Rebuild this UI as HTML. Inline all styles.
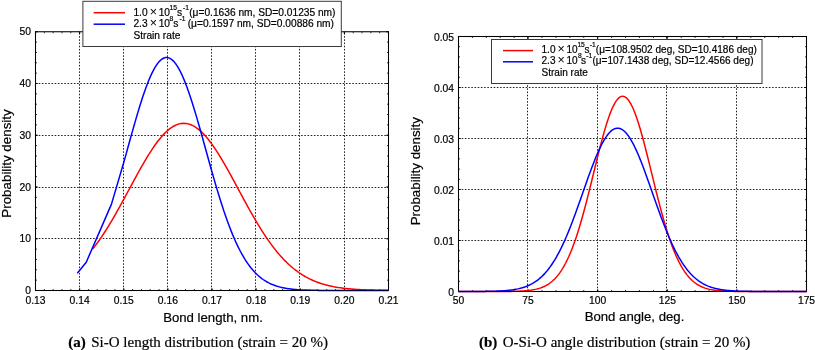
<!DOCTYPE html>
<html><head><meta charset="utf-8"><title>Figure</title>
<style>
html,body{margin:0;padding:0;background:#fff;}
svg{display:block}
.g{stroke:#222;stroke-width:1;stroke-dasharray:1.6 1.6;fill:none}
.t{stroke:#000;stroke-width:0.8;fill:none}
.f{stroke:#000;stroke-width:1.05;fill:none}
.r{stroke:#ff0000;stroke-width:1.5;fill:none;stroke-linejoin:round}
.b{stroke:#0000ff;stroke-width:1.5;fill:none;stroke-linejoin:round}
.lg{fill:#fff;stroke:#3a3a3a;stroke-width:1}
text{font-family:"Liberation Sans",sans-serif;fill:#000;stroke:#000;stroke-width:0.2px}
.tl{font-size:10.3px}
.al{font-size:13.2px}
.yl{font-size:13.35px}
.lt{font-size:10.2px}
.lb{font-size:10.05px}
.sup{font-size:6.7px}
.mx{font-size:12.5px;stroke-width:0}
.cap{font-family:"Liberation Serif",serif;font-size:15px}
</style></head><body>
<svg width="815" height="350" viewBox="0 0 815 350">
<line x1="79.50" y1="290.5" x2="79.50" y2="31.75" class="g"/>
<line x1="123.50" y1="290.5" x2="123.50" y2="31.75" class="g"/>
<line x1="167.50" y1="290.5" x2="167.50" y2="31.75" class="g"/>
<line x1="211.50" y1="290.5" x2="211.50" y2="31.75" class="g"/>
<line x1="255.50" y1="290.5" x2="255.50" y2="31.75" class="g"/>
<line x1="299.50" y1="290.5" x2="299.50" y2="31.75" class="g"/>
<line x1="344.50" y1="290.5" x2="344.50" y2="31.75" class="g"/>
<line x1="35.5" y1="238.50" x2="388.5" y2="238.50" class="g"/>
<line x1="35.5" y1="187.50" x2="388.5" y2="187.50" class="g"/>
<line x1="35.5" y1="135.50" x2="388.5" y2="135.50" class="g"/>
<line x1="35.5" y1="83.50" x2="388.5" y2="83.50" class="g"/>
<line x1="35.50" y1="290.5" x2="35.50" y2="289.0" class="t"/>
<line x1="35.50" y1="31.75" x2="35.50" y2="33.25" class="t"/>
<line x1="44.33" y1="290.5" x2="44.33" y2="289.0" class="t"/>
<line x1="44.33" y1="31.75" x2="44.33" y2="33.25" class="t"/>
<line x1="53.15" y1="290.5" x2="53.15" y2="289.0" class="t"/>
<line x1="53.15" y1="31.75" x2="53.15" y2="33.25" class="t"/>
<line x1="61.98" y1="290.5" x2="61.98" y2="289.0" class="t"/>
<line x1="61.98" y1="31.75" x2="61.98" y2="33.25" class="t"/>
<line x1="70.80" y1="290.5" x2="70.80" y2="289.0" class="t"/>
<line x1="70.80" y1="31.75" x2="70.80" y2="33.25" class="t"/>
<line x1="79.63" y1="290.5" x2="79.63" y2="289.0" class="t"/>
<line x1="79.63" y1="31.75" x2="79.63" y2="33.25" class="t"/>
<line x1="88.45" y1="290.5" x2="88.45" y2="289.0" class="t"/>
<line x1="88.45" y1="31.75" x2="88.45" y2="33.25" class="t"/>
<line x1="97.28" y1="290.5" x2="97.28" y2="289.0" class="t"/>
<line x1="97.28" y1="31.75" x2="97.28" y2="33.25" class="t"/>
<line x1="106.10" y1="290.5" x2="106.10" y2="289.0" class="t"/>
<line x1="106.10" y1="31.75" x2="106.10" y2="33.25" class="t"/>
<line x1="114.93" y1="290.5" x2="114.93" y2="289.0" class="t"/>
<line x1="114.93" y1="31.75" x2="114.93" y2="33.25" class="t"/>
<line x1="123.75" y1="290.5" x2="123.75" y2="289.0" class="t"/>
<line x1="123.75" y1="31.75" x2="123.75" y2="33.25" class="t"/>
<line x1="132.57" y1="290.5" x2="132.57" y2="289.0" class="t"/>
<line x1="132.57" y1="31.75" x2="132.57" y2="33.25" class="t"/>
<line x1="141.40" y1="290.5" x2="141.40" y2="289.0" class="t"/>
<line x1="141.40" y1="31.75" x2="141.40" y2="33.25" class="t"/>
<line x1="150.23" y1="290.5" x2="150.23" y2="289.0" class="t"/>
<line x1="150.23" y1="31.75" x2="150.23" y2="33.25" class="t"/>
<line x1="159.05" y1="290.5" x2="159.05" y2="289.0" class="t"/>
<line x1="159.05" y1="31.75" x2="159.05" y2="33.25" class="t"/>
<line x1="167.88" y1="290.5" x2="167.88" y2="289.0" class="t"/>
<line x1="167.88" y1="31.75" x2="167.88" y2="33.25" class="t"/>
<line x1="176.70" y1="290.5" x2="176.70" y2="289.0" class="t"/>
<line x1="176.70" y1="31.75" x2="176.70" y2="33.25" class="t"/>
<line x1="185.53" y1="290.5" x2="185.53" y2="289.0" class="t"/>
<line x1="185.53" y1="31.75" x2="185.53" y2="33.25" class="t"/>
<line x1="194.35" y1="290.5" x2="194.35" y2="289.0" class="t"/>
<line x1="194.35" y1="31.75" x2="194.35" y2="33.25" class="t"/>
<line x1="203.18" y1="290.5" x2="203.18" y2="289.0" class="t"/>
<line x1="203.18" y1="31.75" x2="203.18" y2="33.25" class="t"/>
<line x1="212.00" y1="290.5" x2="212.00" y2="289.0" class="t"/>
<line x1="212.00" y1="31.75" x2="212.00" y2="33.25" class="t"/>
<line x1="220.83" y1="290.5" x2="220.83" y2="289.0" class="t"/>
<line x1="220.83" y1="31.75" x2="220.83" y2="33.25" class="t"/>
<line x1="229.65" y1="290.5" x2="229.65" y2="289.0" class="t"/>
<line x1="229.65" y1="31.75" x2="229.65" y2="33.25" class="t"/>
<line x1="238.47" y1="290.5" x2="238.47" y2="289.0" class="t"/>
<line x1="238.47" y1="31.75" x2="238.47" y2="33.25" class="t"/>
<line x1="247.30" y1="290.5" x2="247.30" y2="289.0" class="t"/>
<line x1="247.30" y1="31.75" x2="247.30" y2="33.25" class="t"/>
<line x1="256.12" y1="290.5" x2="256.12" y2="289.0" class="t"/>
<line x1="256.12" y1="31.75" x2="256.12" y2="33.25" class="t"/>
<line x1="264.95" y1="290.5" x2="264.95" y2="289.0" class="t"/>
<line x1="264.95" y1="31.75" x2="264.95" y2="33.25" class="t"/>
<line x1="273.77" y1="290.5" x2="273.77" y2="289.0" class="t"/>
<line x1="273.77" y1="31.75" x2="273.77" y2="33.25" class="t"/>
<line x1="282.60" y1="290.5" x2="282.60" y2="289.0" class="t"/>
<line x1="282.60" y1="31.75" x2="282.60" y2="33.25" class="t"/>
<line x1="291.43" y1="290.5" x2="291.43" y2="289.0" class="t"/>
<line x1="291.43" y1="31.75" x2="291.43" y2="33.25" class="t"/>
<line x1="300.25" y1="290.5" x2="300.25" y2="289.0" class="t"/>
<line x1="300.25" y1="31.75" x2="300.25" y2="33.25" class="t"/>
<line x1="309.08" y1="290.5" x2="309.08" y2="289.0" class="t"/>
<line x1="309.08" y1="31.75" x2="309.08" y2="33.25" class="t"/>
<line x1="317.90" y1="290.5" x2="317.90" y2="289.0" class="t"/>
<line x1="317.90" y1="31.75" x2="317.90" y2="33.25" class="t"/>
<line x1="326.73" y1="290.5" x2="326.73" y2="289.0" class="t"/>
<line x1="326.73" y1="31.75" x2="326.73" y2="33.25" class="t"/>
<line x1="335.55" y1="290.5" x2="335.55" y2="289.0" class="t"/>
<line x1="335.55" y1="31.75" x2="335.55" y2="33.25" class="t"/>
<line x1="344.38" y1="290.5" x2="344.38" y2="289.0" class="t"/>
<line x1="344.38" y1="31.75" x2="344.38" y2="33.25" class="t"/>
<line x1="353.20" y1="290.5" x2="353.20" y2="289.0" class="t"/>
<line x1="353.20" y1="31.75" x2="353.20" y2="33.25" class="t"/>
<line x1="362.03" y1="290.5" x2="362.03" y2="289.0" class="t"/>
<line x1="362.03" y1="31.75" x2="362.03" y2="33.25" class="t"/>
<line x1="370.85" y1="290.5" x2="370.85" y2="289.0" class="t"/>
<line x1="370.85" y1="31.75" x2="370.85" y2="33.25" class="t"/>
<line x1="379.68" y1="290.5" x2="379.68" y2="289.0" class="t"/>
<line x1="379.68" y1="31.75" x2="379.68" y2="33.25" class="t"/>
<line x1="388.50" y1="290.5" x2="388.50" y2="289.0" class="t"/>
<line x1="388.50" y1="31.75" x2="388.50" y2="33.25" class="t"/>
<line x1="35.50" y1="290.5" x2="35.50" y2="288.0" class="t"/>
<line x1="35.50" y1="31.75" x2="35.50" y2="34.25" class="t"/>
<line x1="79.63" y1="290.5" x2="79.63" y2="288.0" class="t"/>
<line x1="79.63" y1="31.75" x2="79.63" y2="34.25" class="t"/>
<line x1="123.75" y1="290.5" x2="123.75" y2="288.0" class="t"/>
<line x1="123.75" y1="31.75" x2="123.75" y2="34.25" class="t"/>
<line x1="167.88" y1="290.5" x2="167.88" y2="288.0" class="t"/>
<line x1="167.88" y1="31.75" x2="167.88" y2="34.25" class="t"/>
<line x1="212.00" y1="290.5" x2="212.00" y2="288.0" class="t"/>
<line x1="212.00" y1="31.75" x2="212.00" y2="34.25" class="t"/>
<line x1="256.12" y1="290.5" x2="256.12" y2="288.0" class="t"/>
<line x1="256.12" y1="31.75" x2="256.12" y2="34.25" class="t"/>
<line x1="300.25" y1="290.5" x2="300.25" y2="288.0" class="t"/>
<line x1="300.25" y1="31.75" x2="300.25" y2="34.25" class="t"/>
<line x1="344.38" y1="290.5" x2="344.38" y2="288.0" class="t"/>
<line x1="344.38" y1="31.75" x2="344.38" y2="34.25" class="t"/>
<line x1="388.50" y1="290.5" x2="388.50" y2="288.0" class="t"/>
<line x1="388.50" y1="31.75" x2="388.50" y2="34.25" class="t"/>
<line x1="35.5" y1="290.50" x2="37.0" y2="290.50" class="t"/>
<line x1="388.5" y1="290.50" x2="387.0" y2="290.50" class="t"/>
<line x1="35.5" y1="280.15" x2="37.0" y2="280.15" class="t"/>
<line x1="388.5" y1="280.15" x2="387.0" y2="280.15" class="t"/>
<line x1="35.5" y1="269.80" x2="37.0" y2="269.80" class="t"/>
<line x1="388.5" y1="269.80" x2="387.0" y2="269.80" class="t"/>
<line x1="35.5" y1="259.45" x2="37.0" y2="259.45" class="t"/>
<line x1="388.5" y1="259.45" x2="387.0" y2="259.45" class="t"/>
<line x1="35.5" y1="249.10" x2="37.0" y2="249.10" class="t"/>
<line x1="388.5" y1="249.10" x2="387.0" y2="249.10" class="t"/>
<line x1="35.5" y1="238.75" x2="37.0" y2="238.75" class="t"/>
<line x1="388.5" y1="238.75" x2="387.0" y2="238.75" class="t"/>
<line x1="35.5" y1="228.40" x2="37.0" y2="228.40" class="t"/>
<line x1="388.5" y1="228.40" x2="387.0" y2="228.40" class="t"/>
<line x1="35.5" y1="218.05" x2="37.0" y2="218.05" class="t"/>
<line x1="388.5" y1="218.05" x2="387.0" y2="218.05" class="t"/>
<line x1="35.5" y1="207.70" x2="37.0" y2="207.70" class="t"/>
<line x1="388.5" y1="207.70" x2="387.0" y2="207.70" class="t"/>
<line x1="35.5" y1="197.35" x2="37.0" y2="197.35" class="t"/>
<line x1="388.5" y1="197.35" x2="387.0" y2="197.35" class="t"/>
<line x1="35.5" y1="187.00" x2="37.0" y2="187.00" class="t"/>
<line x1="388.5" y1="187.00" x2="387.0" y2="187.00" class="t"/>
<line x1="35.5" y1="176.65" x2="37.0" y2="176.65" class="t"/>
<line x1="388.5" y1="176.65" x2="387.0" y2="176.65" class="t"/>
<line x1="35.5" y1="166.30" x2="37.0" y2="166.30" class="t"/>
<line x1="388.5" y1="166.30" x2="387.0" y2="166.30" class="t"/>
<line x1="35.5" y1="155.95" x2="37.0" y2="155.95" class="t"/>
<line x1="388.5" y1="155.95" x2="387.0" y2="155.95" class="t"/>
<line x1="35.5" y1="145.60" x2="37.0" y2="145.60" class="t"/>
<line x1="388.5" y1="145.60" x2="387.0" y2="145.60" class="t"/>
<line x1="35.5" y1="135.25" x2="37.0" y2="135.25" class="t"/>
<line x1="388.5" y1="135.25" x2="387.0" y2="135.25" class="t"/>
<line x1="35.5" y1="124.90" x2="37.0" y2="124.90" class="t"/>
<line x1="388.5" y1="124.90" x2="387.0" y2="124.90" class="t"/>
<line x1="35.5" y1="114.55" x2="37.0" y2="114.55" class="t"/>
<line x1="388.5" y1="114.55" x2="387.0" y2="114.55" class="t"/>
<line x1="35.5" y1="104.20" x2="37.0" y2="104.20" class="t"/>
<line x1="388.5" y1="104.20" x2="387.0" y2="104.20" class="t"/>
<line x1="35.5" y1="93.85" x2="37.0" y2="93.85" class="t"/>
<line x1="388.5" y1="93.85" x2="387.0" y2="93.85" class="t"/>
<line x1="35.5" y1="83.50" x2="37.0" y2="83.50" class="t"/>
<line x1="388.5" y1="83.50" x2="387.0" y2="83.50" class="t"/>
<line x1="35.5" y1="73.15" x2="37.0" y2="73.15" class="t"/>
<line x1="388.5" y1="73.15" x2="387.0" y2="73.15" class="t"/>
<line x1="35.5" y1="62.80" x2="37.0" y2="62.80" class="t"/>
<line x1="388.5" y1="62.80" x2="387.0" y2="62.80" class="t"/>
<line x1="35.5" y1="52.45" x2="37.0" y2="52.45" class="t"/>
<line x1="388.5" y1="52.45" x2="387.0" y2="52.45" class="t"/>
<line x1="35.5" y1="42.10" x2="37.0" y2="42.10" class="t"/>
<line x1="388.5" y1="42.10" x2="387.0" y2="42.10" class="t"/>
<line x1="35.5" y1="31.75" x2="37.0" y2="31.75" class="t"/>
<line x1="388.5" y1="31.75" x2="387.0" y2="31.75" class="t"/>
<line x1="35.5" y1="290.50" x2="38.0" y2="290.50" class="t"/>
<line x1="388.5" y1="290.50" x2="386.0" y2="290.50" class="t"/>
<line x1="35.5" y1="238.75" x2="38.0" y2="238.75" class="t"/>
<line x1="388.5" y1="238.75" x2="386.0" y2="238.75" class="t"/>
<line x1="35.5" y1="187.00" x2="38.0" y2="187.00" class="t"/>
<line x1="388.5" y1="187.00" x2="386.0" y2="187.00" class="t"/>
<line x1="35.5" y1="135.25" x2="38.0" y2="135.25" class="t"/>
<line x1="388.5" y1="135.25" x2="386.0" y2="135.25" class="t"/>
<line x1="35.5" y1="83.50" x2="38.0" y2="83.50" class="t"/>
<line x1="388.5" y1="83.50" x2="386.0" y2="83.50" class="t"/>
<line x1="35.5" y1="31.75" x2="38.0" y2="31.75" class="t"/>
<line x1="388.5" y1="31.75" x2="386.0" y2="31.75" class="t"/>
<rect x="35.5" y="31.75" width="353.0" height="258.75" class="f"/>
<polyline points="92.86,248.91 99.48,239.94 100.93,237.84 102.39,235.68 103.84,233.47 105.29,231.22 106.74,228.92 108.20,226.58 109.65,224.20 111.10,221.78 112.55,219.32 114.00,216.82 115.46,214.29 116.91,211.73 118.36,209.14 119.81,206.52 121.27,203.89 122.72,201.23 124.17,198.56 125.62,195.87 127.08,193.18 128.53,190.48 129.98,187.78 131.43,185.08 132.89,182.38 134.34,179.70 135.79,177.03 137.24,174.38 138.69,171.75 140.15,169.14 141.60,166.57 143.05,164.03 144.50,161.54 145.96,159.08 147.41,156.68 148.86,154.33 150.31,152.03 151.77,149.80 153.22,147.63 154.67,145.53 156.12,143.50 157.58,141.56 159.03,139.69 160.48,137.91 161.93,136.22 163.38,134.62 164.84,133.11 166.29,131.71 167.74,130.40 169.19,129.20 170.65,128.10 172.10,127.12 173.55,126.24 175.00,125.48 176.46,124.83 177.91,124.29 179.36,123.88 180.81,123.58 182.27,123.39 183.72,123.33 185.17,123.39 186.62,123.56 188.07,123.86 189.53,124.27 190.98,124.79 192.43,125.44 193.88,126.19 195.34,127.06 196.79,128.04 198.24,129.13 199.69,130.33 201.15,131.63 202.60,133.03 204.05,134.53 205.50,136.12 206.96,137.81 208.41,139.59 209.86,141.45 211.31,143.39 212.76,145.41 214.22,147.50 215.67,149.67 217.12,151.90 218.57,154.19 220.03,156.54 221.48,158.94 222.93,161.39 224.38,163.89 225.84,166.42 227.29,168.99 228.74,171.59 230.19,174.22 231.65,176.87 233.10,179.54 234.55,182.23 236.00,184.92 237.46,187.62 238.91,190.32 240.36,193.02 241.81,195.72 243.26,198.40 244.72,201.08 246.17,203.73 247.62,206.37 249.07,208.99 250.53,211.58 251.98,214.14 253.43,216.67 254.88,219.17 256.34,221.63 257.79,224.06 259.24,226.44 260.69,228.79 262.15,231.09 263.60,233.34 265.05,235.55 266.50,237.71 267.95,239.82 269.41,241.88 270.86,243.90 272.31,245.86 273.76,247.76 275.22,249.62 276.67,251.42 278.12,253.17 279.57,254.87 281.03,256.51 282.48,258.10 283.93,259.64 285.38,261.12 286.84,262.56 288.29,263.94 289.74,265.27 291.19,266.56 292.64,267.79 294.10,268.97 295.55,270.11 297.00,271.20 298.45,272.25 299.91,273.25 301.36,274.21 302.81,275.13 304.26,276.00 305.72,276.84 307.17,277.63 308.62,278.39 310.07,279.11 311.53,279.80 312.98,280.45 314.43,281.07 315.88,281.65 317.33,282.21 318.79,282.74 320.24,283.24 321.69,283.71 323.14,284.15 324.60,284.57 326.05,284.97 327.50,285.34 328.95,285.70 330.41,286.03 331.86,286.34 333.31,286.63 334.76,286.90 336.22,287.16 337.67,287.40 339.12,287.63 340.57,287.84 342.02,288.04 343.48,288.22 344.93,288.39 346.38,288.55 347.83,288.70 349.29,288.84 350.74,288.97 352.19,289.09 353.64,289.20 355.10,289.31 356.55,289.40 358.00,289.49 359.45,289.58 360.91,289.65 362.36,289.72 363.81,289.79 365.26,289.85 366.71,289.90 368.17,289.95 369.62,290.00 371.07,290.05 372.52,290.09 373.98,290.12 375.43,290.16 376.88,290.19 378.33,290.22 379.79,290.24 381.24,290.26 382.69,290.29 384.14,290.31 385.60,290.32 387.05,290.34 388.50,290.36" class="r"/>
<polyline points="77.29,273.31 86.24,262.24 111.39,204.37 123.75,162.53 125.96,154.59 127.28,149.82 128.59,145.05 129.91,140.30 131.23,135.56 132.55,130.85 133.87,126.19 135.19,121.59 136.51,117.05 137.83,112.59 139.15,108.23 140.47,103.98 141.79,99.84 143.11,95.83 144.43,91.96 145.75,88.25 147.07,84.70 148.38,81.33 149.70,78.15 151.02,75.16 152.34,72.38 153.66,69.81 154.98,67.47 156.30,65.36 157.62,63.49 158.94,61.86 160.26,60.48 161.58,59.36 162.90,58.50 164.22,57.90 165.54,57.56 166.86,57.49 168.17,57.68 169.49,58.14 170.81,58.86 172.13,59.85 173.45,61.08 174.77,62.58 176.09,64.32 177.41,66.30 178.73,68.52 180.05,70.96 181.37,73.63 182.69,76.51 184.01,79.59 185.33,82.86 186.64,86.31 187.96,89.94 189.28,93.73 190.60,97.66 191.92,101.73 193.24,105.92 194.56,110.23 195.88,114.64 197.20,119.13 198.52,123.70 199.84,128.33 201.16,133.01 202.48,137.74 203.80,142.48 205.12,147.25 206.43,152.02 207.75,156.78 209.07,161.53 210.39,166.25 211.71,170.93 213.03,175.57 214.35,180.15 215.67,184.67 216.99,189.12 218.31,193.49 219.63,197.79 220.95,201.99 222.27,206.10 223.59,210.11 224.90,214.01 226.22,217.81 227.54,221.50 228.86,225.07 230.18,228.54 231.50,231.88 232.82,235.11 234.14,238.22 235.46,241.21 236.78,244.08 238.10,246.84 239.42,249.48 240.74,252.00 242.06,254.41 243.38,256.70 244.69,258.89 246.01,260.97 247.33,262.94 248.65,264.81 249.97,266.58 251.29,268.26 252.61,269.84 253.93,271.33 255.25,272.73 256.57,274.05 257.89,275.29 259.21,276.45 260.53,277.54 261.85,278.55 263.17,279.50 264.48,280.39 265.80,281.21 267.12,281.98 268.44,282.69 269.76,283.36 271.08,283.97 272.40,284.54 273.72,285.06 275.04,285.54 276.36,285.99 277.68,286.40 279.00,286.78 280.32,287.12 281.64,287.44 282.95,287.73 284.27,288.00 285.59,288.24 286.91,288.46 288.23,288.66 289.55,288.85 290.87,289.02 292.19,289.17 293.51,289.30 294.83,289.43 296.15,289.54 297.47,289.64 298.79,289.74 300.11,289.82 301.43,289.89 302.74,289.96 304.06,290.02 305.38,290.07 306.70,290.12 308.02,290.17 309.34,290.20 310.66,290.24 311.98,290.27 313.30,290.30 314.62,290.32 315.94,290.34 317.26,290.36 318.58,290.38 319.90,290.39 321.21,290.41 322.53,290.42 323.85,290.43 325.17,290.44 326.49,290.45 327.81,290.45 329.13,290.46 330.45,290.46 331.77,290.47 333.09,290.47 334.41,290.48 335.73,290.48 337.05,290.48 338.37,290.49 339.69,290.49 341.00,290.49 342.32,290.49 343.64,290.49 344.96,290.49 346.28,290.49 347.60,290.49 348.92,290.50 350.24,290.50 351.56,290.50 352.88,290.50 354.20,290.50 355.52,290.50 356.84,290.50 358.16,290.50 359.48,290.50 360.79,290.50 362.11,290.50 363.43,290.50 364.75,290.50 366.07,290.50 367.39,290.50 368.71,290.50 370.03,290.50 371.35,290.50 372.67,290.50 373.99,290.50 375.31,290.50 376.63,290.50 377.95,290.50 379.26,290.50 380.58,290.50 381.90,290.50 383.22,290.50 384.54,290.50 385.86,290.50 387.18,290.50 388.50,290.50" class="b"/>
<line x1="35.5" y1="290.5" x2="388.5" y2="290.5" class="f" stroke-opacity="0.75"/>
<text x="35.50" y="303.6" class="tl" text-anchor="middle">0.13</text>
<text x="79.63" y="303.6" class="tl" text-anchor="middle">0.14</text>
<text x="123.75" y="303.6" class="tl" text-anchor="middle">0.15</text>
<text x="167.88" y="303.6" class="tl" text-anchor="middle">0.16</text>
<text x="212.00" y="303.6" class="tl" text-anchor="middle">0.17</text>
<text x="256.12" y="303.6" class="tl" text-anchor="middle">0.18</text>
<text x="300.25" y="303.6" class="tl" text-anchor="middle">0.19</text>
<text x="344.38" y="303.6" class="tl" text-anchor="middle">0.20</text>
<text x="388.50" y="303.6" class="tl" text-anchor="middle">0.21</text>
<text x="31" y="294.00" class="tl" text-anchor="end">0</text>
<text x="31" y="242.25" class="tl" text-anchor="end">10</text>
<text x="31" y="190.50" class="tl" text-anchor="end">20</text>
<text x="31" y="138.75" class="tl" text-anchor="end">30</text>
<text x="31" y="87.00" class="tl" text-anchor="end">40</text>
<text x="31" y="35.25" class="tl" text-anchor="end">50</text>
<text x="213" y="322.3" class="al" text-anchor="middle">Bond length, nm.</text>
<text transform="translate(10.8,163.5) rotate(-90)" class="al yl" text-anchor="middle">Probability density</text>
<rect x="82.9" y="1.3" width="258.4" height="45.2" class="lg"/>
<line x1="93.6" y1="12.7" x2="125" y2="12.7" class="r"/>
<line x1="93.6" y1="24.2" x2="125" y2="24.2" class="b"/>
<text x="133.4" y="15.8" class="lt">1.0 <tspan class="mx" dx="-0.65">×</tspan><tspan dx="-1.2"> 10</tspan><tspan x="169.6" dy="-6" class="sup">15</tspan><tspan x="177.0" dy="6">s</tspan><tspan x="182.95" dy="-6" class="sup">-1</tspan><tspan x="189.2" dy="6">(μ=0.1636 nm, SD=0.01235 nm)</tspan></text>
<text x="133.4" y="27.2" class="lt">2.3 <tspan class="mx" dx="-0.65">×</tspan><tspan dx="-1.2"> 10</tspan><tspan x="169.5" dy="-6" class="sup">8</tspan><tspan x="173.3" dy="6">s</tspan><tspan x="179.55" dy="-6" class="sup">-1</tspan><tspan x="187.7" dy="6">(μ=0.1597 nm, SD=0.00886 nm)</tspan></text>
<text x="133.4" y="38.6" class="lt">Strain rate</text>
<line x1="527.50" y1="291.5" x2="527.50" y2="36.5" class="g"/>
<line x1="597.50" y1="291.5" x2="597.50" y2="36.5" class="g"/>
<line x1="666.50" y1="291.5" x2="666.50" y2="36.5" class="g"/>
<line x1="736.50" y1="291.5" x2="736.50" y2="36.5" class="g"/>
<line x1="458.5" y1="240.50" x2="806.5" y2="240.50" class="g"/>
<line x1="458.5" y1="189.50" x2="806.5" y2="189.50" class="g"/>
<line x1="458.5" y1="138.50" x2="806.5" y2="138.50" class="g"/>
<line x1="458.5" y1="87.50" x2="806.5" y2="87.50" class="g"/>
<line x1="458.50" y1="291.5" x2="458.50" y2="290.0" class="t"/>
<line x1="458.50" y1="36.5" x2="458.50" y2="38.0" class="t"/>
<line x1="472.42" y1="291.5" x2="472.42" y2="290.0" class="t"/>
<line x1="472.42" y1="36.5" x2="472.42" y2="38.0" class="t"/>
<line x1="486.34" y1="291.5" x2="486.34" y2="290.0" class="t"/>
<line x1="486.34" y1="36.5" x2="486.34" y2="38.0" class="t"/>
<line x1="500.26" y1="291.5" x2="500.26" y2="290.0" class="t"/>
<line x1="500.26" y1="36.5" x2="500.26" y2="38.0" class="t"/>
<line x1="514.18" y1="291.5" x2="514.18" y2="290.0" class="t"/>
<line x1="514.18" y1="36.5" x2="514.18" y2="38.0" class="t"/>
<line x1="528.10" y1="291.5" x2="528.10" y2="290.0" class="t"/>
<line x1="528.10" y1="36.5" x2="528.10" y2="38.0" class="t"/>
<line x1="542.02" y1="291.5" x2="542.02" y2="290.0" class="t"/>
<line x1="542.02" y1="36.5" x2="542.02" y2="38.0" class="t"/>
<line x1="555.94" y1="291.5" x2="555.94" y2="290.0" class="t"/>
<line x1="555.94" y1="36.5" x2="555.94" y2="38.0" class="t"/>
<line x1="569.86" y1="291.5" x2="569.86" y2="290.0" class="t"/>
<line x1="569.86" y1="36.5" x2="569.86" y2="38.0" class="t"/>
<line x1="583.78" y1="291.5" x2="583.78" y2="290.0" class="t"/>
<line x1="583.78" y1="36.5" x2="583.78" y2="38.0" class="t"/>
<line x1="597.70" y1="291.5" x2="597.70" y2="290.0" class="t"/>
<line x1="597.70" y1="36.5" x2="597.70" y2="38.0" class="t"/>
<line x1="611.62" y1="291.5" x2="611.62" y2="290.0" class="t"/>
<line x1="611.62" y1="36.5" x2="611.62" y2="38.0" class="t"/>
<line x1="625.54" y1="291.5" x2="625.54" y2="290.0" class="t"/>
<line x1="625.54" y1="36.5" x2="625.54" y2="38.0" class="t"/>
<line x1="639.46" y1="291.5" x2="639.46" y2="290.0" class="t"/>
<line x1="639.46" y1="36.5" x2="639.46" y2="38.0" class="t"/>
<line x1="653.38" y1="291.5" x2="653.38" y2="290.0" class="t"/>
<line x1="653.38" y1="36.5" x2="653.38" y2="38.0" class="t"/>
<line x1="667.30" y1="291.5" x2="667.30" y2="290.0" class="t"/>
<line x1="667.30" y1="36.5" x2="667.30" y2="38.0" class="t"/>
<line x1="681.22" y1="291.5" x2="681.22" y2="290.0" class="t"/>
<line x1="681.22" y1="36.5" x2="681.22" y2="38.0" class="t"/>
<line x1="695.14" y1="291.5" x2="695.14" y2="290.0" class="t"/>
<line x1="695.14" y1="36.5" x2="695.14" y2="38.0" class="t"/>
<line x1="709.06" y1="291.5" x2="709.06" y2="290.0" class="t"/>
<line x1="709.06" y1="36.5" x2="709.06" y2="38.0" class="t"/>
<line x1="722.98" y1="291.5" x2="722.98" y2="290.0" class="t"/>
<line x1="722.98" y1="36.5" x2="722.98" y2="38.0" class="t"/>
<line x1="736.90" y1="291.5" x2="736.90" y2="290.0" class="t"/>
<line x1="736.90" y1="36.5" x2="736.90" y2="38.0" class="t"/>
<line x1="750.82" y1="291.5" x2="750.82" y2="290.0" class="t"/>
<line x1="750.82" y1="36.5" x2="750.82" y2="38.0" class="t"/>
<line x1="764.74" y1="291.5" x2="764.74" y2="290.0" class="t"/>
<line x1="764.74" y1="36.5" x2="764.74" y2="38.0" class="t"/>
<line x1="778.66" y1="291.5" x2="778.66" y2="290.0" class="t"/>
<line x1="778.66" y1="36.5" x2="778.66" y2="38.0" class="t"/>
<line x1="792.58" y1="291.5" x2="792.58" y2="290.0" class="t"/>
<line x1="792.58" y1="36.5" x2="792.58" y2="38.0" class="t"/>
<line x1="806.50" y1="291.5" x2="806.50" y2="290.0" class="t"/>
<line x1="806.50" y1="36.5" x2="806.50" y2="38.0" class="t"/>
<line x1="458.50" y1="291.5" x2="458.50" y2="289.0" class="t"/>
<line x1="458.50" y1="36.5" x2="458.50" y2="39.0" class="t"/>
<line x1="528.10" y1="291.5" x2="528.10" y2="289.0" class="t"/>
<line x1="528.10" y1="36.5" x2="528.10" y2="39.0" class="t"/>
<line x1="597.70" y1="291.5" x2="597.70" y2="289.0" class="t"/>
<line x1="597.70" y1="36.5" x2="597.70" y2="39.0" class="t"/>
<line x1="667.30" y1="291.5" x2="667.30" y2="289.0" class="t"/>
<line x1="667.30" y1="36.5" x2="667.30" y2="39.0" class="t"/>
<line x1="736.90" y1="291.5" x2="736.90" y2="289.0" class="t"/>
<line x1="736.90" y1="36.5" x2="736.90" y2="39.0" class="t"/>
<line x1="806.50" y1="291.5" x2="806.50" y2="289.0" class="t"/>
<line x1="806.50" y1="36.5" x2="806.50" y2="39.0" class="t"/>
<line x1="458.5" y1="291.50" x2="460.0" y2="291.50" class="t"/>
<line x1="806.5" y1="291.50" x2="805.0" y2="291.50" class="t"/>
<line x1="458.5" y1="281.30" x2="460.0" y2="281.30" class="t"/>
<line x1="806.5" y1="281.30" x2="805.0" y2="281.30" class="t"/>
<line x1="458.5" y1="271.10" x2="460.0" y2="271.10" class="t"/>
<line x1="806.5" y1="271.10" x2="805.0" y2="271.10" class="t"/>
<line x1="458.5" y1="260.90" x2="460.0" y2="260.90" class="t"/>
<line x1="806.5" y1="260.90" x2="805.0" y2="260.90" class="t"/>
<line x1="458.5" y1="250.70" x2="460.0" y2="250.70" class="t"/>
<line x1="806.5" y1="250.70" x2="805.0" y2="250.70" class="t"/>
<line x1="458.5" y1="240.50" x2="460.0" y2="240.50" class="t"/>
<line x1="806.5" y1="240.50" x2="805.0" y2="240.50" class="t"/>
<line x1="458.5" y1="230.30" x2="460.0" y2="230.30" class="t"/>
<line x1="806.5" y1="230.30" x2="805.0" y2="230.30" class="t"/>
<line x1="458.5" y1="220.10" x2="460.0" y2="220.10" class="t"/>
<line x1="806.5" y1="220.10" x2="805.0" y2="220.10" class="t"/>
<line x1="458.5" y1="209.90" x2="460.0" y2="209.90" class="t"/>
<line x1="806.5" y1="209.90" x2="805.0" y2="209.90" class="t"/>
<line x1="458.5" y1="199.70" x2="460.0" y2="199.70" class="t"/>
<line x1="806.5" y1="199.70" x2="805.0" y2="199.70" class="t"/>
<line x1="458.5" y1="189.50" x2="460.0" y2="189.50" class="t"/>
<line x1="806.5" y1="189.50" x2="805.0" y2="189.50" class="t"/>
<line x1="458.5" y1="179.30" x2="460.0" y2="179.30" class="t"/>
<line x1="806.5" y1="179.30" x2="805.0" y2="179.30" class="t"/>
<line x1="458.5" y1="169.10" x2="460.0" y2="169.10" class="t"/>
<line x1="806.5" y1="169.10" x2="805.0" y2="169.10" class="t"/>
<line x1="458.5" y1="158.90" x2="460.0" y2="158.90" class="t"/>
<line x1="806.5" y1="158.90" x2="805.0" y2="158.90" class="t"/>
<line x1="458.5" y1="148.70" x2="460.0" y2="148.70" class="t"/>
<line x1="806.5" y1="148.70" x2="805.0" y2="148.70" class="t"/>
<line x1="458.5" y1="138.50" x2="460.0" y2="138.50" class="t"/>
<line x1="806.5" y1="138.50" x2="805.0" y2="138.50" class="t"/>
<line x1="458.5" y1="128.30" x2="460.0" y2="128.30" class="t"/>
<line x1="806.5" y1="128.30" x2="805.0" y2="128.30" class="t"/>
<line x1="458.5" y1="118.10" x2="460.0" y2="118.10" class="t"/>
<line x1="806.5" y1="118.10" x2="805.0" y2="118.10" class="t"/>
<line x1="458.5" y1="107.90" x2="460.0" y2="107.90" class="t"/>
<line x1="806.5" y1="107.90" x2="805.0" y2="107.90" class="t"/>
<line x1="458.5" y1="97.70" x2="460.0" y2="97.70" class="t"/>
<line x1="806.5" y1="97.70" x2="805.0" y2="97.70" class="t"/>
<line x1="458.5" y1="87.50" x2="460.0" y2="87.50" class="t"/>
<line x1="806.5" y1="87.50" x2="805.0" y2="87.50" class="t"/>
<line x1="458.5" y1="77.30" x2="460.0" y2="77.30" class="t"/>
<line x1="806.5" y1="77.30" x2="805.0" y2="77.30" class="t"/>
<line x1="458.5" y1="67.10" x2="460.0" y2="67.10" class="t"/>
<line x1="806.5" y1="67.10" x2="805.0" y2="67.10" class="t"/>
<line x1="458.5" y1="56.90" x2="460.0" y2="56.90" class="t"/>
<line x1="806.5" y1="56.90" x2="805.0" y2="56.90" class="t"/>
<line x1="458.5" y1="46.70" x2="460.0" y2="46.70" class="t"/>
<line x1="806.5" y1="46.70" x2="805.0" y2="46.70" class="t"/>
<line x1="458.5" y1="36.50" x2="460.0" y2="36.50" class="t"/>
<line x1="806.5" y1="36.50" x2="805.0" y2="36.50" class="t"/>
<line x1="458.5" y1="291.50" x2="461.0" y2="291.50" class="t"/>
<line x1="806.5" y1="291.50" x2="804.0" y2="291.50" class="t"/>
<line x1="458.5" y1="240.50" x2="461.0" y2="240.50" class="t"/>
<line x1="806.5" y1="240.50" x2="804.0" y2="240.50" class="t"/>
<line x1="458.5" y1="189.50" x2="461.0" y2="189.50" class="t"/>
<line x1="806.5" y1="189.50" x2="804.0" y2="189.50" class="t"/>
<line x1="458.5" y1="138.50" x2="461.0" y2="138.50" class="t"/>
<line x1="806.5" y1="138.50" x2="804.0" y2="138.50" class="t"/>
<line x1="458.5" y1="87.50" x2="461.0" y2="87.50" class="t"/>
<line x1="806.5" y1="87.50" x2="804.0" y2="87.50" class="t"/>
<line x1="458.5" y1="36.50" x2="461.0" y2="36.50" class="t"/>
<line x1="806.5" y1="36.50" x2="804.0" y2="36.50" class="t"/>
<rect x="458.5" y="36.5" width="348.0" height="255.0" class="f"/>
<polyline points="458.50,291.50 459.66,291.50 460.83,291.50 461.99,291.50 463.16,291.50 464.32,291.50 465.48,291.50 466.65,291.50 467.81,291.50 468.97,291.50 470.14,291.50 471.30,291.50 472.47,291.50 473.63,291.50 474.79,291.50 475.96,291.50 477.12,291.50 478.29,291.50 479.45,291.50 480.61,291.50 481.78,291.50 482.94,291.50 484.11,291.50 485.27,291.50 486.43,291.50 487.60,291.50 488.76,291.50 489.92,291.49 491.09,291.49 492.25,291.49 493.42,291.49 494.58,291.49 495.74,291.49 496.91,291.48 498.07,291.48 499.24,291.48 500.40,291.47 501.56,291.47 502.73,291.46 503.89,291.46 505.06,291.45 506.22,291.44 507.38,291.43 508.55,291.41 509.71,291.40 510.87,291.38 512.04,291.36 513.20,291.34 514.37,291.32 515.53,291.29 516.69,291.25 517.86,291.21 519.02,291.17 520.19,291.12 521.35,291.06 522.51,290.99 523.68,290.92 524.84,290.83 526.01,290.74 527.17,290.63 528.33,290.51 529.50,290.37 530.66,290.22 531.82,290.04 532.99,289.85 534.15,289.63 535.32,289.39 536.48,289.13 537.64,288.83 538.81,288.50 539.97,288.13 541.14,287.72 542.30,287.28 543.46,286.78 544.63,286.24 545.79,285.65 546.95,285.00 548.12,284.29 549.28,283.51 550.45,282.66 551.61,281.74 552.77,280.74 553.94,279.66 555.10,278.49 556.27,277.23 557.43,275.87 558.59,274.41 559.76,272.84 560.92,271.17 562.09,269.37 563.25,267.46 564.41,265.42 565.58,263.26 566.74,260.96 567.90,258.54 569.07,255.97 570.23,253.27 571.40,250.43 572.56,247.45 573.72,244.33 574.89,241.07 576.05,237.67 577.22,234.14 578.38,230.47 579.54,226.67 580.71,222.74 581.87,218.70 583.04,214.54 584.20,210.27 585.36,205.91 586.53,201.45 587.69,196.92 588.85,192.31 590.02,187.66 591.18,182.95 592.35,178.22 593.51,173.47 594.67,168.72 595.84,163.98 597.00,159.28 598.17,154.62 599.33,150.02 600.49,145.51 601.66,141.09 602.82,136.79 603.98,132.62 605.15,128.60 606.31,124.75 607.48,121.09 608.64,117.62 609.80,114.37 610.97,111.35 612.13,108.57 613.30,106.04 614.46,103.79 615.62,101.81 616.79,100.12 617.95,98.72 619.12,97.63 620.28,96.85 621.44,96.37 622.61,96.21 623.77,96.37 624.93,96.84 626.10,97.62 627.26,98.70 628.43,100.09 629.59,101.78 630.75,103.75 631.92,106.00 633.08,108.52 634.25,111.29 635.41,114.31 636.57,117.56 637.74,121.02 638.90,124.69 640.07,128.53 641.23,132.55 642.39,136.71 643.56,141.01 644.72,145.43 645.88,149.94 647.05,154.53 648.21,159.19 649.38,163.90 650.54,168.63 651.70,173.39 652.87,178.13 654.03,182.87 655.20,187.57 656.36,192.23 657.52,196.84 658.69,201.37 659.85,205.83 661.02,210.19 662.18,214.46 663.34,218.62 664.51,222.67 665.67,226.60 666.83,230.40 668.00,234.07 669.16,237.61 670.33,241.01 671.49,244.27 672.65,247.40 673.82,250.38 674.98,253.22 676.15,255.93 677.31,258.49 678.47,260.92 679.64,263.22 680.80,265.38 681.96,267.42 683.13,269.34 684.29,271.14 685.46,272.82 686.62,274.39 687.78,275.85 688.95,277.21 690.11,278.47 691.28,279.64 692.44,280.73 693.60,281.73 694.77,282.65 695.93,283.49 697.10,284.27 698.26,284.99 699.42,285.64 700.59,286.23 701.75,286.78 702.91,287.27 704.08,287.72 705.24,288.12 706.41,288.49 707.57,288.82 708.73,289.12 709.90,289.39 711.06,289.63 712.23,289.85 713.39,290.04 714.55,290.21 715.72,290.37 716.88,290.51 718.05,290.63 719.21,290.74 720.37,290.83 721.54,290.92 722.70,290.99 723.86,291.06 725.03,291.12 726.19,291.17 727.36,291.21 728.52,291.25 729.68,291.29 730.85,291.31 732.01,291.34 733.18,291.36 734.34,291.38 735.50,291.40 736.67,291.41 737.83,291.43 738.99,291.44 740.16,291.45 741.32,291.45 742.49,291.46 743.65,291.47 744.81,291.47 745.98,291.48 747.14,291.48 748.31,291.48 749.47,291.49 750.63,291.49 751.80,291.49 752.96,291.49 754.13,291.49 755.29,291.49 756.45,291.50 757.62,291.50 758.78,291.50 759.94,291.50 761.11,291.50 762.27,291.50 763.44,291.50 764.60,291.50 765.76,291.50 766.93,291.50 768.09,291.50 769.26,291.50 770.42,291.50 771.58,291.50 772.75,291.50 773.91,291.50 775.08,291.50 776.24,291.50 777.40,291.50 778.57,291.50 779.73,291.50 780.89,291.50 782.06,291.50 783.22,291.50 784.39,291.50 785.55,291.50 786.71,291.50 787.88,291.50 789.04,291.50 790.21,291.50 791.37,291.50 792.53,291.50 793.70,291.50 794.86,291.50 796.03,291.50 797.19,291.50 798.35,291.50 799.52,291.50 800.68,291.50 801.84,291.50 803.01,291.50 804.17,291.50 805.34,291.50 806.50,291.50" class="r"/>
<polyline points="458.50,291.50 459.66,291.49 460.83,291.49 461.99,291.49 463.16,291.49 464.32,291.49 465.48,291.49 466.65,291.49 467.81,291.49 468.97,291.48 470.14,291.48 471.30,291.48 472.47,291.47 473.63,291.47 474.79,291.47 475.96,291.46 477.12,291.46 478.29,291.45 479.45,291.44 480.61,291.43 481.78,291.42 482.94,291.41 484.11,291.40 485.27,291.39 486.43,291.37 487.60,291.35 488.76,291.34 489.92,291.31 491.09,291.29 492.25,291.26 493.42,291.23 494.58,291.20 495.74,291.16 496.91,291.12 498.07,291.07 499.24,291.02 500.40,290.96 501.56,290.89 502.73,290.82 503.89,290.74 505.06,290.66 506.22,290.56 507.38,290.45 508.55,290.34 509.71,290.21 510.87,290.06 512.04,289.91 513.20,289.74 514.37,289.55 515.53,289.35 516.69,289.13 517.86,288.89 519.02,288.62 520.19,288.34 521.35,288.03 522.51,287.69 523.68,287.32 524.84,286.93 526.01,286.50 527.17,286.04 528.33,285.55 529.50,285.01 530.66,284.44 531.82,283.83 532.99,283.17 534.15,282.46 535.32,281.71 536.48,280.90 537.64,280.04 538.81,279.13 539.97,278.15 541.14,277.12 542.30,276.03 543.46,274.87 544.63,273.64 545.79,272.34 546.95,270.98 548.12,269.54 549.28,268.02 550.45,266.43 551.61,264.76 552.77,263.02 553.94,261.19 555.10,259.28 556.27,257.29 557.43,255.22 558.59,253.07 559.76,250.83 560.92,248.52 562.09,246.12 563.25,243.64 564.41,241.09 565.58,238.46 566.74,235.75 567.90,232.97 569.07,230.12 570.23,227.21 571.40,224.23 572.56,221.19 573.72,218.10 574.89,214.96 576.05,211.78 577.22,208.56 578.38,205.30 579.54,202.02 580.71,198.71 581.87,195.40 583.04,192.07 584.20,188.75 585.36,185.43 586.53,182.14 587.69,178.86 588.85,175.62 590.02,172.42 591.18,169.27 592.35,166.18 593.51,163.15 594.67,160.20 595.84,157.33 597.00,154.55 598.17,151.87 599.33,149.30 600.49,146.85 601.66,144.52 602.82,142.32 603.98,140.26 605.15,138.34 606.31,136.57 607.48,134.96 608.64,133.51 609.80,132.23 610.97,131.11 612.13,130.17 613.30,129.41 614.46,128.83 615.62,128.43 616.79,128.21 617.95,128.17 619.12,128.32 620.28,128.66 621.44,129.17 622.61,129.87 623.77,130.74 624.93,131.79 626.10,133.01 627.26,134.40 628.43,135.95 629.59,137.66 630.75,139.52 631.92,141.53 633.08,143.68 634.25,145.96 635.41,148.37 636.57,150.90 637.74,153.53 638.90,156.27 640.07,159.11 641.23,162.03 642.39,165.03 643.56,168.10 644.72,171.23 645.88,174.41 647.05,177.64 648.21,180.90 649.38,184.19 650.54,187.50 651.70,190.82 652.87,194.15 654.03,197.47 655.20,200.78 656.36,204.07 657.52,207.34 658.69,210.57 659.85,213.77 661.02,216.93 662.18,220.04 663.34,223.10 664.51,226.09 665.67,229.03 666.83,231.91 668.00,234.71 669.16,237.45 670.33,240.11 671.49,242.69 672.65,245.20 673.82,247.63 674.98,249.97 676.15,252.24 677.31,254.42 678.47,256.53 679.64,258.54 680.80,260.48 681.96,262.34 683.13,264.12 684.29,265.81 685.46,267.43 686.62,268.98 687.78,270.44 688.95,271.84 690.11,273.16 691.28,274.41 692.44,275.60 693.60,276.72 694.77,277.77 695.93,278.77 697.10,279.70 698.26,280.58 699.42,281.41 700.59,282.18 701.75,282.91 702.91,283.58 704.08,284.22 705.24,284.80 706.41,285.35 707.57,285.86 708.73,286.33 709.90,286.77 711.06,287.18 712.23,287.56 713.39,287.90 714.55,288.22 715.72,288.52 716.88,288.79 718.05,289.04 719.21,289.27 720.37,289.48 721.54,289.67 722.70,289.85 723.86,290.01 725.03,290.15 726.19,290.29 727.36,290.41 728.52,290.52 729.68,290.62 730.85,290.71 732.01,290.79 733.18,290.87 734.34,290.94 735.50,291.00 736.67,291.05 737.83,291.10 738.99,291.14 740.16,291.18 741.32,291.22 742.49,291.25 743.65,291.28 744.81,291.30 745.98,291.33 747.14,291.35 748.31,291.37 749.47,291.38 750.63,291.40 751.80,291.41 752.96,291.42 754.13,291.43 755.29,291.44 756.45,291.45 757.62,291.45 758.78,291.46 759.94,291.46 761.11,291.47 762.27,291.47 763.44,291.48 764.60,291.48 765.76,291.48 766.93,291.48 768.09,291.49 769.26,291.49 770.42,291.49 771.58,291.49 772.75,291.49 773.91,291.49 775.08,291.49 776.24,291.50 777.40,291.50 778.57,291.50 779.73,291.50 780.89,291.50 782.06,291.50 783.22,291.50 784.39,291.50 785.55,291.50 786.71,291.50 787.88,291.50 789.04,291.50 790.21,291.50 791.37,291.50 792.53,291.50 793.70,291.50 794.86,291.50 796.03,291.50 797.19,291.50 798.35,291.50 799.52,291.50 800.68,291.50 801.84,291.50 803.01,291.50 804.17,291.50 805.34,291.50 806.50,291.50" class="b"/>
<line x1="458.5" y1="291.5" x2="806.5" y2="291.5" class="f" stroke-opacity="0.75"/>
<text x="458.50" y="304.1" class="tl" text-anchor="middle">50</text>
<text x="528.10" y="304.1" class="tl" text-anchor="middle">75</text>
<text x="597.70" y="304.1" class="tl" text-anchor="middle">100</text>
<text x="667.30" y="304.1" class="tl" text-anchor="middle">125</text>
<text x="736.90" y="304.1" class="tl" text-anchor="middle">150</text>
<text x="806.50" y="304.1" class="tl" text-anchor="middle">175</text>
<text x="454" y="295.50" class="tl" text-anchor="end">0</text>
<text x="454" y="244.50" class="tl" text-anchor="end">0.01</text>
<text x="454" y="193.50" class="tl" text-anchor="end">0.02</text>
<text x="454" y="142.50" class="tl" text-anchor="end">0.03</text>
<text x="454" y="91.50" class="tl" text-anchor="end">0.04</text>
<text x="454" y="40.50" class="tl" text-anchor="end">0.05</text>
<text x="634.5" y="321.2" class="al" text-anchor="middle">Bond angle, deg.</text>
<text transform="translate(420.0,171.2) rotate(-90)" class="al yl" text-anchor="middle">Probability density</text>
<rect x="491.5" y="39.5" width="270.5" height="44" class="lg"/>
<line x1="503" y1="50.6" x2="533" y2="50.6" class="r"/>
<line x1="503" y1="61.8" x2="533" y2="61.8" class="b"/>
<text x="541.5" y="53.3" class="lt lb">1.0 <tspan class="mx" dx="-0.65">×</tspan><tspan dx="-1.2"> 10</tspan><tspan x="577.4" dy="-6" class="sup">15</tspan><tspan x="584.6" dy="6">s</tspan><tspan x="589.75" dy="-6" class="sup">-1</tspan><tspan x="595.8" dy="6">(μ=108.9502 deg, SD=10.4186 deg)</tspan></text>
<text x="541.5" y="64.2" class="lt lb">2.3 <tspan class="mx" dx="-0.65">×</tspan><tspan dx="-1.2"> 10</tspan><tspan x="578.0" dy="-6" class="sup">8</tspan><tspan x="581.1" dy="6">s</tspan><tspan x="586.35" dy="-6" class="sup">-1</tspan><tspan x="592.4" dy="6">(μ=107.1438 deg, SD=12.4566 deg)</tspan></text>
<text x="541.5" y="75.5" class="lt lb">Strain rate</text>
<text x="68.2" y="346.8" class="cap"><tspan font-weight="bold">(a)</tspan><tspan dx="1.8"> Si-O length distribution (strain = 20 %)</tspan></text>
<text x="478.9" y="346.8" class="cap"><tspan font-weight="bold">(b)</tspan><tspan dx="1.8"> O-Si-O angle distribution (strain = 20 %)</tspan></text>
</svg>
</body></html>
